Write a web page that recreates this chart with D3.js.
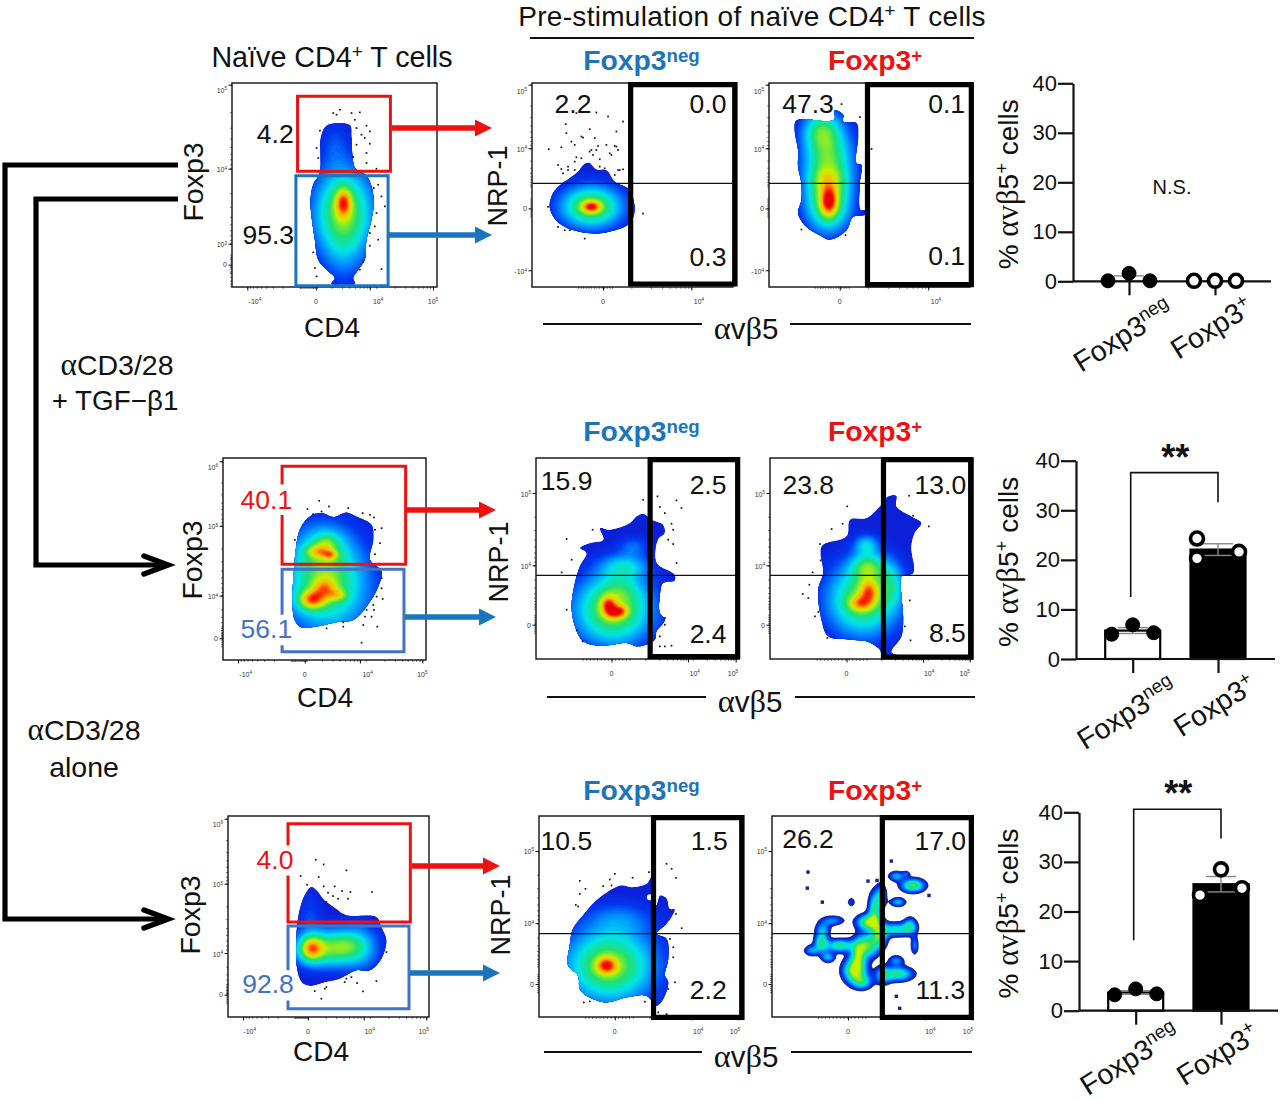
<!DOCTYPE html>
<html><head><meta charset="utf-8"><title>aVb5 flow figure</title>
<script src="https://cdn.jsdelivr.net/npm/d3@7"></script>
<style>html,body{margin:0;padding:0;background:#fff}svg{display:block}text{font-family:"Liberation Sans",Arial,sans-serif;fill:#111}</style>
</head><body><div id="c"></div>
<script>
/* ---------- bar chart values ---------- */
const groups = ["Foxp3neg","Foxp3+"];
const yTicks = [0,10,20,30,40];
const row1Neg = [0.1,1.6,0.1],  row1Pos = [0.1,0.1,0.1];
const row2Neg = [5.0,6.9,5.3],  row2Pos = [20.3,24.3,21.6];
const row3Neg = [3.2,4.4,3.4],  row3Pos = [23.3,28.5,24.7];
const swarm = [-1,0,1], swarmRow2Pos = [-1,-1,1];
const bracketRow2 = [12.5,37.6,31.6], bracketRow3 = [14.2,40.6,34.7];

/* ---------- flow plots: every value below is in channel units of its own plot ---------- */
/* outlines = edge of the density cloud; peaks = [cx,cy,sx,sy,weight] of the density */
const outlineA = [[470,168],[540,166],[545,200],[548,260],[556,295],[590,318],[605,350],[612,400],[605,450],[590,510],[585,570],[565,600],[550,625],[555,642],[485,642],[495,625],[470,600],[445,570],[435,510],[425,440],[422,390],[430,345],[450,310],[452,250],[452,210]];
const peaksA = [[521,398,17,30,.42],[521,430,60,90,.6],[495,225,28,50,.1],[521,560,40,60,.08]];
const dotsA = [[490,130],[510,120],[500,135],[545,130],[570,128],[555,150],[590,168],[600,185],[560,175],[575,195],[560,225],[585,205],[600,222],[590,250],[550,262],[590,280],[620,297],[440,235],[445,265],[450,183],[625,345],[612,355],[635,380],[620,430],[645,410],[600,528],[625,510],[635,598],[580,575],[570,600],[435,595],[440,620],[430,548],[615,470],[600,490]];

const outlineB = [[268,278],[290,298],[320,300],[345,335],[385,355],[395,370],[405,420],[390,460],[340,482],[290,490],[240,485],[195,470],[165,445],[150,410],[160,370],[185,342],[210,325],[235,305],[250,285]];
const peaksB = [[275,410,20,12,.42],[275,410,62,42,.6]];
const dotsB = [[230,130],[290,128],[325,140],[370,155],[198,163],[200,190],[270,178],[350,185],[245,200],[285,205],[215,215],[225,225],[147,238],[185,232],[270,245],[295,228],[320,225],[345,228],[355,240],[335,255],[280,255],[230,262],[300,268],[175,285],[205,290],[185,297],[360,300],[345,315],[430,430],[255,505],[210,480],[195,480],[145,410],[250,203],[275,240],[290,240],[330,250],[350,230],[225,275],[245,265],[205,300],[300,290],[315,295],[355,300],[370,298],[225,300],[190,310],[175,470]];

const outlineC = [[1003,150],[1005,122],[1030,135],[1030,155],[1070,160],[1075,200],[1070,280],[1085,285],[1080,340],[1082,420],[1095,420],[1095,435],[1060,440],[1040,480],[990,508],[960,495],[920,470],[895,430],[905,390],[905,340],[895,290],[895,240],[885,180],[890,152]];
const peaksC = [[988,395,17,30,.42],[985,405,45,55,.55],[985,270,50,70,.52],[965,180,38,40,.36],[985,330,40,30,.18]];
const dotsC = [[1025,103],[1080,142],[1115,237],[905,478],[1037,495]];

const outlineD = [[420,200],[455,190],[490,202],[530,188],[560,200],[605,225],[610,270],[600,330],[635,365],[625,410],[590,470],[550,510],[510,515],[440,530],[395,532],[375,510],[368,450],[372,370],[378,300],[390,240]];
const peaksD = [[425,450,28,20,.5],[465,415,25,22,.3],[505,435,20,12,.24],[470,410,85,90,.52],[440,305,25,13,.3],[482,315,16,10,.3],[470,280,25,20,.22],[460,300,62,60,.24]];
const dotsD = [[448,153],[477,170],[413,178],[430,193],[455,185],[535,175],[578,190],[600,195],[612,203],[615,240],[635,235],[630,280],[615,313],[635,385],[635,415],[638,447],[620,440],[610,465],[590,480],[612,480],[605,500],[585,500],[520,517],[580,525],[622,530],[520,530],[470,535],[575,578],[375,270]];

const outlineE = [[430,192],[460,212],[490,225],[495,250],[475,270],[470,340],[525,375],[525,393],[490,400],[480,440],[480,490],[495,510],[470,545],[465,570],[415,590],[380,580],[300,588],[250,575],[225,530],[215,470],[225,400],[240,350],[260,310],[240,295],[270,280],[310,270],[300,235],[330,240],[390,220],[410,200]];
const peaksE = [[325,465,16,18,.36],[340,490,18,14,.28],[365,485,15,12,.26],[340,480,78,70,.62],[375,350,50,25,.28],[400,290,30,20,.15],[365,420,40,30,.12]];
const dotsE = [[430,150],[473,140],[530,152],[480,172],[545,175],[495,190],[515,222],[520,240],[505,270],[520,283],[530,340],[200,268],[278,240],[215,330],[185,368],[200,480],[230,542],[248,575],[495,505],[495,525],[480,560],[480,590],[495,590],[515,588]];

const outlineF = [[1165,140],[1190,138],[1190,170],[1235,200],[1265,220],[1245,250],[1235,290],[1240,370],[1205,380],[1205,440],[1210,500],[1205,560],[1175,608],[1220,620],[1150,625],[1140,600],[1100,575],[1050,570],[985,560],[965,510],[955,420],[970,370],[965,290],[1040,260],[1050,210],[1100,205],[1140,170]];
const peaksF = [[1108,425,20,26,.38],[1080,462,24,16,.3],[1090,450,72,72,.58],[1105,350,35,28,.38],[1100,285,25,20,.28],[1175,400,25,45,.22]];
const dotsF = [[1042,170],[1228,138],[1240,198],[1287,230],[995,238],[1028,222],[960,283],[962,332],[938,368],[928,405],[908,433],[925,445],[955,487],[945,500],[982,565],[1230,452],[1215,530],[1232,572]];

const outlineG = [[425,245],[440,255],[465,285],[500,310],[530,330],[620,335],[635,365],[650,405],[635,460],[600,495],[560,495],[510,520],[470,530],[420,542],[395,530],[380,470],[380,420],[385,340],[405,270]];
const peaksG = [[425,430,24,26,.5],[470,430,65,38,.5],[530,420,38,30,.18],[575,425,40,50,.2],[420,330,25,50,.1]];
const dotsG = [[438,163],[462,177],[530,195],[393,212],[412,238],[447,215],[462,243],[495,243],[517,257],[607,260],[542,260],[475,262],[490,272],[505,280],[535,280],[470,290],[650,440],[620,527],[580,558],[562,533],[545,515],[530,520],[525,530],[470,545],[465,550],[435,557],[455,580]];

const outlineH = [[455,215],[470,300],[480,270],[500,278],[510,310],[525,312],[500,355],[470,385],[500,400],[505,460],[495,510],[505,530],[490,580],[470,600],[440,570],[380,575],[320,590],[260,570],[240,550],[235,510],[205,480],[210,420],[220,370],[250,330],[290,285],[360,240],[400,245],[440,235]];
const peaksH = [[320,480,22,18,.42],[330,480,90,74,.6],[360,340,70,35,.14]];
const dotsH = [[500,175],[515,190],[528,217],[447,200],[345,205],[330,222],[398,217],[240,226],[257,250],[335,240],[310,242],[240,265],[228,298],[235,303],[528,325],[545,368],[510,400],[520,425],[520,455],[525,530],[505,550],[475,620],[500,625],[270,587],[252,590],[435,588]];
const holesH = [[450,275]];

const peaksI = [[1240,240,25,14,.6],[1190,212,16,10,.36],[1195,290,16,9,.38],[1220,205,8,6,.2],[1105,350,24,16,.62],[1125,310,13,36,.5],[1145,270,11,25,.34],[1055,290,10,12,.18],[1190,372,32,14,.46],[1232,360,14,17,.38],[1245,420,8,20,.28],[1000,345,24,10,.3],[970,370,16,15,.3],[965,410,14,20,.5],[1020,420,28,13,.52],[935,435,15,11,.32],[985,455,14,11,.36],[1100,420,26,26,.58],[1065,495,24,26,.72],[1075,450,14,25,.38],[1090,530,20,15,.38],[1195,505,32,15,.52],[1150,510,16,20,.32],[1190,465,16,11,.3],[1140,390,16,25,.46]];
const sparseI = [[925,200],[923,248],[968,290],[1105,227],[1132,225],[1175,167],[1288,270],[1190,572],[1200,608]];

/* tick lists: [label, exponent, tick channel, label channel] */
const ticksFoxA = {x:[["-10","4",232,255],["0","",438,438],["10","4",600,625],["10","5",790,790]], y:[["10","5",45,62],["10","4",297,300],["10","3",522,525],["0","",585,585]]};
const ticksQ1L = {x:[["0","",310,310],["10","4",575,598]], y:[["10","5",45,65],["10","4",235,238],["0","",415,415],["-10","4",600,605]]};
const ticksQ1R = {x:[["0","",1020,1020],["10","4",1285,1308]], y:[["10","5",45,65],["10","4",235,238],["0","",415,415],["-10","4",600,605]]};
const ticksFoxB = {x:[["-10","4",205,228],["0","",405,405],["10","4",570,593],["10","5",757,757]], y:[["10","6",35,52],["10","5",228,231],["10","4",437,440],["0","",565,565]]};
const ticksQ2L = {x:[["0","",335,335],["10","4",565,585],["10","5",708,700]], y:[["10","5",130,133],["10","4",347,350],["0","",525,528]]};
const ticksQ2R = {x:[["0","",1040,1040],["10","4",1270,1288],["10","5",1410,1395]], y:[["10","5",130,133],["10","4",347,350],["0","",525,528]]};
const ticksFoxC = {x:[["-10","4",220,240],["0","",415,415],["10","4",582,600],["10","5",770,762]], y:[["10","6",40,57],["10","5",235,238],["10","4",443,446],["0","",568,568]]};
const ticksQ3L = {x:[["0","",345,345],["10","4",575,595],["10","5",715,705]], y:[["10","5",137,137],["10","4",353,355],["0","",535,537]]};
const ticksQ3R = {x:[["0","",1045,1045],["10","4",1277,1292],["10","5",1418,1405]], y:[["10","5",137,137],["10","4",353,355],["0","",535,537]]};

const RED="#ee1111", BLUE="#1b75bc", SLATE="#4472c4";
const plots = [
 {frame:[232,83,437,287], chX:[186,802], chY:[40,652], outline:outlineA, peaks:peaksA, dots:dotsA, ticks:ticksFoxA, dense:[390,445],
  gates:[{c:RED,w:3,p:[[383,80],[662,80],[662,305],[383,305],[383,80]]},{c:BLUE,w:3,p:[[378,318],[655,318],[655,648],[378,648],[378,318]]}],
  labels:[["4.2",316,190,"#111"],["95.3",295,495,"#111"]]},
 {frame:[532,83,733,287], chX:[97,700], chY:[40,650], outline:outlineB, peaks:peaksB, dots:dotsB, ticks:ticksQ1L, dense:[235,345], hline:340,
  gates:[{c:"#000",w:5.2,p:[[393,45],[706,45],[706,641],[393,641],[393,45]]}],
  labels:[["2.2",220,100,"#111"],["0.0",625,102,"#111"],["0.3",625,558,"#111"]]},
 {frame:[769,83,970,287], chX:[808,1410], chY:[40,650], outline:outlineC, peaks:peaksC, dots:dotsC, ticks:ticksQ1R, dense:[945,1055], hline:340,
  gates:[{c:"#000",w:5.2,p:[[1103,45],[1414,45],[1414,643],[1103,643],[1103,45]]}],
  labels:[["47.3",925,102,"#111"],["0.1",1340,102,"#111"],["0.1",1340,557,"#111"]]},

 {frame:[223,458,426,660], chX:[160,768], chY:[25,630], outline:outlineD, peaks:peaksD, dots:dotsD, ticks:ticksFoxB, dense:[365,415],
  gates:[{c:RED,w:3,p:[[337,100],[337,50],[707,50],[707,343],[337,343],[337,200]]},{c:SLATE,w:3,p:[[337,490],[337,358],[702,358],[702,605],[337,605],[337,590]]}],
  labels:[["40.1",290,150,RED],["56.1",290,537,SLATE]]},
 {frame:[536,458,739,659], chX:[108,718], chY:[25,628], outline:outlineE, peaks:peaksE, dots:dotsE, ticks:ticksQ2L, dense:[248,400], hline:377,
  gates:[{c:"#000",w:5.2,p:[[451,30],[714,30],[714,621],[451,621],[451,30]]}],
  labels:[["15.9",200,92,"#111"],["2.5",625,103,"#111"],["2.4",625,550,"#111"]]},
 {frame:[770,458,973,659], chX:[810,1420], chY:[25,628], outline:outlineF, peaks:peaksF, dots:dotsF, ticks:ticksQ2R, dense:[950,1100], hline:377,
  gates:[{c:"#000",w:5.2,p:[[1151,30],[1413,30],[1413,622],[1151,622],[1151,30]]}],
  labels:[["23.8",925,103,"#111"],["13.0",1322,103,"#111"],["8.5",1343,548,"#111"]]},

 {frame:[228,816,429,1017], chX:[175,778], chY:[32,635], outline:outlineG, peaks:peaksG, dots:dotsG, ticks:ticksFoxC, dense:[375,415],
  gates:[{c:RED,w:3,p:[[355,115],[355,55],[722,55],[722,350],[355,350],[355,215]]},{c:SLATE,w:3,p:[[355,490],[355,362],[718,362],[718,610],[355,610],[355,590]]}],
  labels:[["4.0",316,163,RED],["92.8",295,535,SLATE]]},
 {frame:[539,816,740,1017], chX:[118,720], chY:[32,634], outline:outlineH, peaks:peaksH, dots:dotsH, holes:holesH, ticks:ticksQ3L, dense:[255,410], hline:384,
  gates:[{c:"#000",w:5.2,p:[[461,37],[726,37],[726,635],[461,635],[461,37]]}],
  labels:[["10.5",200,105,"#111"],["1.5",628,105,"#111"],["2.2",625,553,"#111"]]},
 {frame:[772,816,973,1017], chX:[817,1420], chY:[32,634], outline:null, peaks:peaksI, dots:[], squares:sparseI, ticks:ticksQ3R, dense:[955,1108], hline:384, floor:.12, cap:.72,
  gates:[{c:"#000",w:5.2,p:[[1148,37],[1415,37],[1415,635],[1148,635],[1148,37]]}],
  labels:[["26.2",925,98,"#111"],["17.0",1322,105,"#111"],["11.3",1322,553,"#111"]]}
];

const bars = [
 {neg:row1Neg,pos:row1Pos,jit:[swarm,swarm],axisX:1073,y0:281.3,y40:83.3,xA:1129,xB:1215,right:1271,solid:false,ns:true,lift:0},
 {neg:row2Neg,pos:row2Pos,jit:[swarm,swarmRow2Pos],axisX:1076,y0:659,y40:460.7,xA:1132.7,xB:1218,right:1275,solid:true,br:bracketRow2,lift:0},
 {neg:row3Neg,pos:row3Pos,jit:[swarm,swarm],axisX:1079,y0:1010.7,y40:812.3,xA:1135.7,xB:1221,right:1278,solid:true,br:bracketRow3,lift:6}
];

const svg = d3.select("#c").append("svg").attr("width",1280).attr("height",1101);
const defs = svg.append("defs");

/* density colours */
const ramp = d3.scaleLinear().domain([0,.08,.2,.33,.48,.66,.8,.93,1])
  .range(["#0c20d8","#0038f0","#0090ff","#00e4e8","#20e070","#c8f000","#ffb000","#f82000","#e80000"]).clamp(true);
const thresholds = d3.range(.02,1.2,.02);
const GRID = 130;

function rich(sel,x,y,parts,o){
  o=o||{};
  const fs=o.size||28, raise=o.raise||.36;
  const t=sel.append("text").attr("x",x).attr("y",y).attr("text-anchor",o.anchor||"middle")
    .attr("font-size",fs).attr("font-weight",o.weight||null).style("fill",o.fill||"#111");
  if(o.spacing) t.attr("letter-spacing",o.spacing);
  if(o.rot!=null) t.attr("transform",`rotate(${o.rot} ${x} ${y})`);
  let shift=0;
  parts.forEach(p=>{
    const kind=p[1]||"";
    const s=t.append("tspan").text(p[0]);
    if(kind==="sup"){s.attr("font-size",fs*.66).attr("dy",-fs*raise);shift=fs*raise;}
    else if(shift){s.attr("dy",shift);shift=0;}
    if(kind==="serif") s.style("font-family",'"Liberation Serif",serif').attr("font-size",fs*1.1);
  });
  return t;
}

plots.forEach((P,idx)=>{
  const [fx0,fy0,fx1,fy1]=P.frame;
  const x=d3.scaleLinear().domain(P.chX).range([fx0,fx1]);
  const y=d3.scaleLinear().domain(P.chY).range([fy0,fy1]);
  const g=svg.append("g").attr("class","plot");

  /* density field from the read peaks */
  const field=new Array(GRID*GRID);
  for(let j=0;j<GRID;j++)for(let i=0;i<GRID;i++){
    const cx=P.chX[0]+(i+.5)/GRID*(P.chX[1]-P.chX[0]), cy=P.chY[0]+(j+.5)/GRID*(P.chY[1]-P.chY[0]);
    let v=0;
    for(const [a,b,sa,sb,w] of P.peaks){const dx=(cx-a)/sa,dy=(cy-b)/sb;v+=w*Math.exp(-.5*(dx*dx+dy*dy));}
    field[j*GRID+i]=P.cap?Math.min(v,P.cap):v;
  }
  const floor=P.floor||0;
  const conts=d3.contours().size([GRID,GRID]).thresholds(floor?thresholds.filter(t=>t>=floor):thresholds)(field);
  const proj=d3.geoTransform({point(a,b){this.stream.point(x(P.chX[0]+a/GRID*(P.chX[1]-P.chX[0])),y(P.chY[0]+b/GRID*(P.chY[1]-P.chY[0])));}});
  const path=d3.geoPath(proj);
  const blob=g.append("g");
  if(P.outline){
    const id="clip"+idx;
    const line=d3.line().x(d=>x(d[0])).y(d=>y(d[1])).curve(d3.curveCatmullRomClosed.alpha(.5));
    defs.append("clipPath").attr("id",id).append("path").attr("d",line(P.outline));
    blob.attr("clip-path",`url(#${id})`);
    blob.append("path").attr("d",line(P.outline)).attr("fill",ramp(0));
  }
  blob.selectAll("path.lv").data(conts).join("path").attr("class","lv").attr("d",path)
    .attr("fill",(d,i)=>floor&&i===0?"#14208f":ramp(floor?(d.value-floor)/(.72-floor)*.68:d.value))
    .attr("stroke",(d,i)=>floor&&i===0?"#14208f":"none").attr("stroke-width",1);
  if(P.holes) g.selectAll("circle.hole").data(P.holes).join("circle").attr("class","hole")
    .attr("cx",d=>x(d[0])).attr("cy",d=>y(d[1])).attr("r",3).attr("fill","#fff");

  g.selectAll("rect.ev").data(P.dots).join("rect").attr("class","ev")
    .attr("x",d=>x(d[0])-.8).attr("y",d=>y(d[1])-.8).attr("width",1.7).attr("height",1.7).attr("fill","#111");
  if(P.squares) g.selectAll("rect.sq").data(P.squares).join("rect").attr("class","sq")
    .attr("x",d=>x(d[0])-1.7).attr("y",d=>y(d[1])-1.7).attr("width",3.4).attr("height",3.4).attr("fill","#1a2090");

  /* axes */
  const tx=P.ticks.x, ty=P.ticks.y;
  const span=(a,b,n)=>d3.range(n).map(i=>a+(b-a)*Math.log10(1+9*i/(n-1)));
  const xMinor=[], yMinor=[];
  const xDec=tx.filter(t=>t[0]==="10");
  const xStep=xDec.length>1?xDec[1][2]-xDec[0][2]:200;
  xDec.forEach(t=>{span(t[2]-xStep*.9,t[2],9).forEach(v=>xMinor.push(v));});
  const neg=tx.find(t=>t[0]==="-10"); if(neg) span(P.dense[0],neg[2],9).forEach(v=>xMinor.push(v));
  d3.range(P.dense[0],P.dense[1],(P.dense[1]-P.dense[0])/14).forEach(v=>xMinor.push(v));
  const zeroY=ty.find(t=>t[0]==="0");
  d3.range(zeroY[2]-30,zeroY[2]+30,6).forEach(v=>yMinor.push(v));
  const yDec=ty.filter(t=>t[0]==="10");
  yDec.forEach((t,i)=>{const st=i<yDec.length-1?yDec[i+1][2]-t[2]:(t[2]-yDec[Math.max(0,i-1)][2])||200; span(t[2],t[2]+st*(i<yDec.length-1?1:.6),9).forEach(v=>yMinor.push(v));});

  const ax=g.append("g").attr("transform",`translate(0,${fy1})`)
    .call(d3.axisBottom(x).tickValues(xMinor.filter(v=>v>P.chX[0]&&v<P.chX[1])).tickSize(1.8).tickFormat(""));
  ax.select(".domain").remove(); ax.selectAll("line").attr("stroke","#222").attr("stroke-width",.7);
  const axM=g.append("g").attr("transform",`translate(0,${fy1})`)
    .call(d3.axisBottom(x).tickValues(tx.map(t=>t[2])).tickSize(3.5).tickFormat(""));
  axM.select(".domain").remove(); axM.selectAll("line").attr("stroke","#111").attr("stroke-width",1);
  const ay=g.append("g").attr("transform",`translate(${fx0},0)`)
    .call(d3.axisLeft(y).tickValues(yMinor.filter(v=>v>P.chY[0]&&v<P.chY[1])).tickSize(1.8).tickFormat(""));
  ay.select(".domain").remove(); ay.selectAll("line").attr("stroke","#222").attr("stroke-width",.7);
  const ayM=g.append("g").attr("transform",`translate(${fx0},0)`)
    .call(d3.axisLeft(y).tickValues(ty.map(t=>t[2])).tickSize(3.5).tickFormat(""));
  ayM.select(".domain").remove(); ayM.selectAll("line").attr("stroke","#111").attr("stroke-width",1);

  tx.forEach(t=>rich(g,x(t[3]),fy1+17,t[1]?[[t[0]],[t[1],"sup"]]:[[t[0]]],{size:7,fill:"#333"}));
  ty.forEach(t=>rich(g,fx0-5,y(t[3])+2.5,t[1]?[[t[0]],[t[1],"sup"]]:[[t[0]]],{size:7,anchor:"end",fill:"#333"}));

  g.append("rect").attr("x",fx0).attr("y",fy0).attr("width",fx1-fx0).attr("height",fy1-fy0)
    .attr("fill","none").attr("stroke","#111").attr("stroke-width",1.4);

  if(P.hline!=null) g.append("line").attr("x1",fx0).attr("x2",fx1).attr("y1",y(P.hline)).attr("y2",y(P.hline)).attr("stroke","#111").attr("stroke-width",1.3);

  const gl=d3.line().x(d=>x(d[0])).y(d=>y(d[1]));
  P.gates.forEach(G=>g.append("path").attr("d",gl(G.p)).attr("fill","none").attr("stroke",G.c).attr("stroke-width",G.w).attr("stroke-linejoin","miter").attr("stroke-linecap","square"));
  P.labels.forEach(L=>g.append("text").attr("x",x(L[1])).attr("y",y(L[2])+9.5).attr("text-anchor","middle").attr("font-size",26.5).style("fill",L[3]).text(L[0]));
});

/* bar panels */
bars.forEach(B=>{
  const g=svg.append("g").attr("class","bars");
  const y=d3.scaleLinear().domain([0,40]).range([B.y0,B.y40]);
  const x=d3.scalePoint().domain(groups).range([B.xA,B.xB]);
  const SW=2.2;
  [B.neg,B.pos].forEach((vals,k)=>{
    const cx=x(groups[k]), m=d3.mean(vals), sem=d3.deviation(vals)/Math.sqrt(vals.length);
    if(B.solid) g.append("rect").attr("x",cx-27.5).attr("width",55).attr("y",y(m)).attr("height",y(0)-y(m))
      .attr("fill",k?"#000":"#fff").attr("stroke","#000").attr("stroke-width",SW);
    const e=g.append("g").attr("stroke","#888").attr("stroke-width",1.4);
    e.append("line").attr("x1",cx).attr("x2",cx).attr("y1",y(m+sem)).attr("y2",y(m-sem));
    [m+sem,m-sem].forEach(v=>e.append("line").attr("x1",cx-15).attr("x2",cx+15).attr("y1",y(v)).attr("y2",y(v)));
  });
  /* axes */
  const ay=g.append("g").attr("transform",`translate(${B.axisX},0)`).call(d3.axisLeft(y).tickValues(yTicks).tickSize(15).tickSizeOuter(0).tickPadding(1));
  ay.selectAll("line,path").attr("stroke","#111").attr("stroke-width",SW);
  ay.selectAll("text").attr("font-size",22).style("font-family",'"Liberation Sans"').style("fill","#111");
  const ax=g.append("g").attr("transform",`translate(0,${B.y0})`).call(d3.axisBottom(x).tickSize(14).tickSizeOuter(0).tickFormat(""));
  ax.select(".domain").remove();
  ax.selectAll("line").attr("stroke","#111").attr("stroke-width",SW);
  g.append("line").attr("x1",B.axisX).attr("x2",B.right).attr("y1",B.y0).attr("y2",B.y0).attr("stroke","#111").attr("stroke-width",SW);
  /* dots */
  [B.neg,B.pos].forEach((vals,k)=>{
    const cx=x(groups[k]);
    g.selectAll(null).data(vals).join("circle")
      .attr("cx",(d,i)=>cx+B.jit[k][i]*21).attr("cy",d=>y(d))
      .attr("r",k?6.5:7).attr("fill",k?"#fff":"#000").attr("stroke","#000").attr("stroke-width",k?3.6:1);
  });
  /* y title */
  rich(g,1018,(B.y0+B.y40)/2+2,[["% "],["αvβ","serif"],["5"],["+","sup"],[" cells"]],{rot:-90,size:28});
  /* category labels */
  rich(g,B.xA+46,B.y0+33-B.lift,[["Foxp3"],["neg","sup"]],{anchor:"end",rot:-32,size:28.5});
  rich(g,B.xB+40,B.y0+31-B.lift/2,[["Foxp3"],["+","sup"]],{anchor:"end",rot:-32,size:28.5});
  if(B.ns) g.append("text").attr("x",x(groups[0])+43).attr("y",y(17.6)).attr("text-anchor","middle").attr("font-size",20).text("N.S.");
  if(B.br){
    const [l,t,r]=B.br;
    const pts=[[x(groups[0])-2,l],[x(groups[0])-2,t],[x(groups[1]),t],[x(groups[1]),r]];
    g.append("path").attr("d",d3.line().x(d=>d[0]).y(d=>y(d[1]))(pts)).attr("fill","none").attr("stroke","#111").attr("stroke-width",1.6);
    g.append("text").attr("x",(x(groups[0])+x(groups[1]))/2).attr("y",y(t)-3).attr("text-anchor","middle").attr("font-size",36).attr("font-weight","bold").text("**");
  }
});

/* text and layout annotations */
const T=svg.append("g");
rich(T,752,25.5,[["Pre-stimulation of naïve CD4"],["+","sup"],[" T cells"]],{size:28,raise:.3,spacing:.3});
T.append("line").attr("x1",530).attr("x2",974).attr("y1",38).attr("y2",38).attr("stroke","#111").attr("stroke-width",2);
rich(T,332,67,[["Naïve CD4"],["+","sup"],[" T cells"]],{size:28.7,raise:.3});
[70,441,800].forEach(yy=>{
  rich(T,641.5,yy,[["Foxp3"],["neg","sup"]],{size:28.3,weight:"bold",fill:"#1b75bc",raise:.3});
  rich(T,875,yy,[["Foxp3"],["+","sup"]],{size:28.3,weight:"bold",fill:"#ee1111",raise:.3});
});
[[193,182,497,186,332,337],[192,560,498,562,325,707],[190,915,500,915,321,1061]].forEach(r=>{
  rich(T,r[0]+10,r[1],[["Foxp3"]],{size:28.5,rot:-90});
  rich(T,r[2]+10,r[3],[["NRP-1"]],{size:27,rot:-90});
  rich(T,r[4],r[5],[["CD4"]],{size:28});
});
[[324,543,702,790,971,746,339],[697,547,706,795,975,750,712],[1052,544,702,791,972,746,1067]].forEach(r=>{
  T.append("line").attr("x1",r[1]).attr("x2",r[2]).attr("y1",r[0]).attr("y2",r[0]).attr("stroke","#111").attr("stroke-width",1.8);
  T.append("line").attr("x1",r[3]).attr("x2",r[4]).attr("y1",r[0]).attr("y2",r[0]).attr("stroke","#111").attr("stroke-width",1.8);
  rich(T,r[5],r[6],[["α","serif"],["v"],["β","serif"],["5"]],{size:29.5});
});
rich(T,117,375,[["α","serif"],["CD3/28"]],{size:28.5});
rich(T,115,410,[["+ TGF−β1"]],{size:27.8});
rich(T,84,740,[["α","serif"],["CD3/28"]],{size:28.5});
rich(T,84,777,[["alone"]],{size:28.5});

/* arrows */
function flowArrow(x0,x1,yy,c){
  T.append("line").attr("x1",x0).attr("x2",x1-14).attr("y1",yy).attr("y2",yy).attr("stroke",c).attr("stroke-width",5.5);
  T.append("path").attr("d",`M${x1},${yy}L${x1-17},${yy-8.5}L${x1-17},${yy+8.5}Z`).attr("fill",c);
}
[[392,492,128,RED],[388,492,235,BLUE],[406,496,510,RED],[405,496,617,BLUE],[412,500,866,RED],[410,500,973,BLUE]].forEach(a=>flowArrow(...a));
function blackArrow(pts){
  const last=pts[pts.length-1];
  T.append("path").attr("d",d3.line()(pts)).attr("fill","none").attr("stroke","#000").attr("stroke-width",5.2).attr("stroke-linejoin","miter");
  T.append("path").attr("d",`M${last[0]-24},${last[1]-9}L${last[0]},${last[1]}L${last[0]-24},${last[1]+9}`).attr("fill","none").attr("stroke","#000").attr("stroke-width",5.5).attr("stroke-linecap","round").attr("stroke-linejoin","miter");
}
blackArrow([[178,165],[5,165],[5,919],[168,919]]);
blackArrow([[178,199],[36,199],[36,565],[168,565]]);
</script></body></html>
